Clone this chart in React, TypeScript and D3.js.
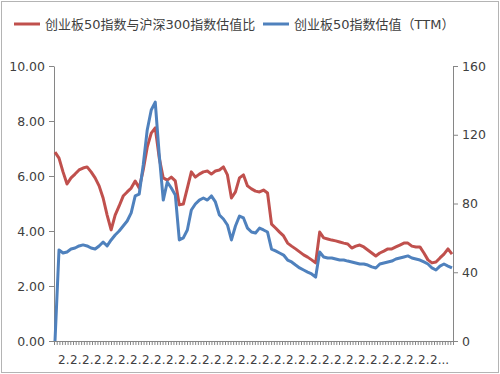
import React, { useEffect, useRef } from "react";
import * as d3 from "d3";

// 创业板50指数与沪深300指数估值比 (left axis)
const ratioSeries = [
  6.87, 6.65, 6.15, 5.71, 5.93, 6.07, 6.22, 6.29, 6.33, 6.15,
  5.93, 5.64, 5.2, 4.58, 4.04, 4.58, 4.91, 5.27, 5.42, 5.56,
  5.82, 5.56, 6.22, 7.05, 7.56, 7.75, 6.65, 5.93, 5.85, 5.96,
  5.82, 4.95, 4.98, 5.56, 6.15, 5.96, 6.07, 6.15, 6.18, 6.07,
  6.18, 6.22, 6.33, 6.04, 5.2, 5.42, 5.93, 6.04, 5.64, 5.53,
  5.45, 5.42, 5.49, 5.38, 4.25, 4.11, 3.96, 3.82, 3.56, 3.45,
  3.35, 3.24, 3.13, 3.05, 2.95, 2.84, 3.96, 3.75, 3.71, 3.67,
  3.64, 3.6, 3.56, 3.53, 3.38, 3.45, 3.49, 3.42, 3.31, 3.2,
  3.09, 3.2, 3.27, 3.35, 3.35, 3.42, 3.49, 3.56, 3.56, 3.45,
  3.42, 3.42, 3.2, 2.95, 2.84, 2.87, 3.02, 3.16, 3.35, 3.16,
];

// 创业板50指数估值（TTM） (right axis)
const peSeries = [
  0, 53, 51.2, 51.8, 53.5, 54.1, 55.3, 55.9, 55.3, 54.1,
  53.5, 55.3, 57.6, 55.3, 58.8, 61.7, 64, 66.9, 69.8, 74.5,
  84.4, 85.5, 102.4, 122.8, 134.4, 139, 108.2, 82, 92.5, 89,
  85, 58.8, 60, 64.6, 76.2, 79.7, 82, 83.2, 82, 84.4,
  80.9, 73.3, 71, 67.5, 58.8, 66.9, 72.7, 71.6, 65.7, 63.4,
  62.8, 65.7, 64.6, 63.4, 53.5, 52.4, 51.2, 50, 47.1, 46,
  44.2, 42.5, 41.3, 40.1, 39, 37.2, 51.8, 48.9, 48.3, 48.3,
  47.7, 47.1, 47.1, 46.5, 46, 45.4, 44.8, 44.8, 44.2, 43.1,
  42.5, 44.8, 45.4, 46, 46.5, 47.7, 48.3, 48.9, 49.5, 48.3,
  47.7, 47.1, 46, 44.8, 42.5, 41.3, 43.6, 44.8, 43.6, 42.5,
];

const leftTicks = [0, 2, 4, 6, 8, 10];
const rightTicks = [0, 40, 80, 120, 160];
const xLabels = [
  "2.", "2.", "2.", "2.", "2.", "2.", "2.", "2.", "2.", "2.", "2.",
  "2.", "2.", "2.", "2.", "2.", "2.", "2.", "2.", "2.", "2.", "2.",
  "2.", "2.", "2.", "2.", "2.", "2.", "2.", "2.", "2.", "2...",
];
const seriesNames = ["创业板50指数与沪深300指数估值比", "创业板50指数估值（TTM）"];
const colors = ["#c0504d", "#4f81bd"];

const W = 500;
const H = 374;
const FONT = "'DejaVu Sans', 'Noto Sans CJK SC', sans-serif";

export default function App() {
  const ref = useRef<SVGSVGElement>(null);

  useEffect(() => {
    document.body.style.margin = "0";
    const svg = d3.select(ref.current);
    svg.selectAll("*").remove();

    const left = 54, right = 453, top = 66, bottom = 341;

    svg.append("rect")
      .attr("x", 1.5).attr("y", 1.5)
      .attr("width", W - 3).attr("height", H - 3)
      .attr("fill", "#fff")
      .attr("stroke", "#b4b4b4");

    const x = d3.scaleLinear().domain([0, ratioSeries.length - 1]).range([left + 1, right - 1]);
    const yL = d3.scaleLinear().domain([0, 10]).range([bottom, top]);
    const yR = d3.scaleLinear().domain([0, 160]).range([bottom, top]);

    const styleAxis = (g: any) => {
      g.select(".domain").attr("stroke", "#868686");
      g.selectAll(".tick line").attr("stroke", "#868686");
      g.selectAll("text").attr("fill", "#404040").attr("font-family", FONT).attr("font-size", 12.5);
    };

    svg.append("g")
      .attr("transform", `translate(${left},0)`)
      .call(d3.axisLeft(yL).tickValues(leftTicks).tickFormat(d3.format(".2f")).tickSize(5).tickSizeOuter(0).tickPadding(4))
      .call(styleAxis);

    svg.append("g")
      .attr("transform", `translate(${right},0)`)
      .call(d3.axisRight(yR).tickValues(rightTicks).tickSize(5).tickSizeOuter(0).tickPadding(4))
      .call(styleAxis);

    // bottom axis with minor ticks
    const xt = d3.scaleLinear().domain([0, 147]).range([left, right]);
    svg.append("g")
      .attr("transform", `translate(0,${bottom})`)
      .call(d3.axisBottom(xt).tickValues(d3.range(0, 148)).tickFormat(() => "").tickSize(4).tickSizeOuter(0))
      .call(styleAxis);

    const xl = d3.scalePoint<number>().domain(d3.range(xLabels.length)).range([58, 430]);
    svg.append("g")
      .selectAll("text")
      .data(xLabels)
      .join("text")
      .attr("x", (_d, i) => xl(i)!)
      .attr("y", 364)
      .attr("text-anchor", "start")
      .attr("fill", "#404040")
      .attr("font-family", FONT)
      .attr("font-size", 12)
      .text((d) => d);

    const lineL = d3.line<number>().x((_d, i) => x(i)).y((d) => yL(d));
    const lineR = d3.line<number>().x((_d, i) => x(i)).y((d) => yR(d));

    svg.append("path")
      .attr("d", lineL(ratioSeries)!)
      .attr("fill", "none")
      .attr("stroke", colors[0])
      .attr("stroke-width", 3)
      .attr("stroke-linejoin", "round");

    svg.append("path")
      .attr("d", lineR(peSeries)!)
      .attr("fill", "none")
      .attr("stroke", colors[1])
      .attr("stroke-width", 3)
      .attr("stroke-linejoin", "round");

    // legend
    const legendX = [14, 263];
    const lg = svg.append("g");
    seriesNames.forEach((name, i) => {
      lg.append("line")
        .attr("x1", legendX[i]).attr("x2", legendX[i] + 26)
        .attr("y1", 24).attr("y2", 24)
        .attr("stroke", colors[i]).attr("stroke-width", 3);
      lg.append("text")
        .attr("x", legendX[i] + 31)
        .attr("y", 29)
        .attr("fill", "#404040")
        .attr("font-family", FONT)
        .attr("font-size", 13)
        .text(name);
    });
  }, []);

  return <svg ref={ref} width={W} height={H} style={{ display: "block" }} />;
}
